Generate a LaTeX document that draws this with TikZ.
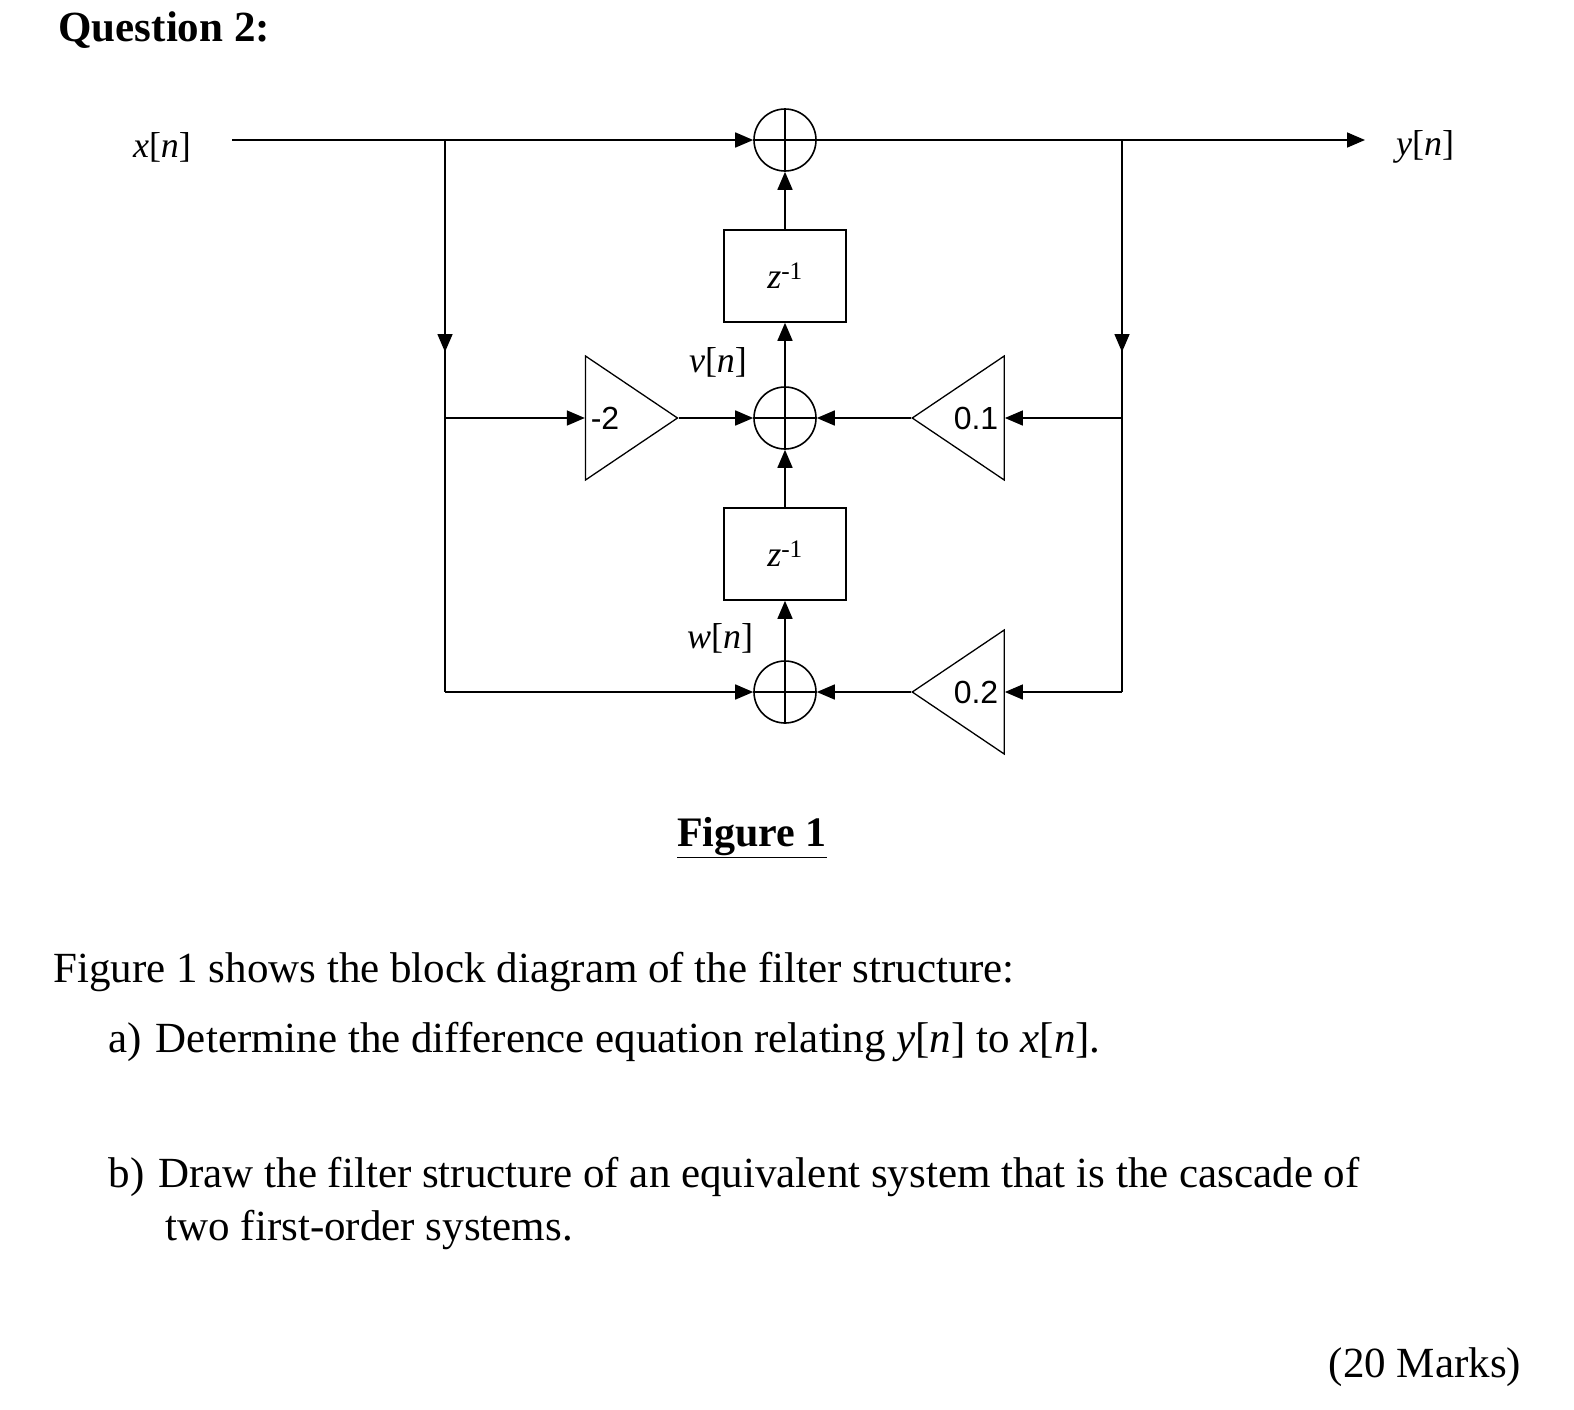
\documentclass[tikz,border=0pt]{standalone}
\usepackage{fontspec}
\setmainfont{Liberation Serif}
\newfontfamily\gainfont{Liberation Sans}
\usetikzlibrary{positioning, arrows.meta, shapes.geometric}

\newcommand{\sigtxt}[1]{\textit{#1}[\textit{n}]}

\tikzset{
  sig/.style={-{Triangle[length=18pt,width=15pt]}, line width=1.6pt},
  wire/.style={line width=1.6pt},
  adder/.style={circle, draw, line width=1.6pt, minimum size=62pt, inner sep=0pt,
    path picture={\draw[line width=1.6pt] (path picture bounding box.north) -- (path picture bounding box.south)
      (path picture bounding box.west) -- (path picture bounding box.east);}},
  delay/.style={rectangle, draw, line width=1.6pt, minimum width=122pt, minimum height=92pt, font=\fontsize{36}{40}\selectfont},
  gain/.style={isosceles triangle, isosceles triangle stretches, draw, line width=1.3pt, inner sep=0pt,
    minimum width=124pt, minimum height=92pt, font=\gainfont\fontsize{32}{36}\selectfont},
  siglabel/.style={font=\fontsize{36}{40}\selectfont},
  body/.style={font=\fontsize{43}{48}\selectfont, anchor=west}
}

\begin{document}
\begin{tikzpicture}[x=1pt, y=-1pt]
  \useasboundingbox (0,0) rectangle (1574,1409);
  % Nodes
  \node (title) [anchor=west, font=\fontsize{43}{48}\selectfont\bfseries] at (55,30) {Question 2:};
  \node (xn) [siglabel] at (162,147) {\sigtxt{x}};
  \node (yn) [siglabel] at (1425,147) {\sigtxt{y}};
  \node (add1) [adder] at (785,140) {};
  \node (add2) [adder] at (785,418) {};
  \node (add3) [adder] at (785,692) {};
  \node (delay1) [delay] at (785,276) {\textit{z}\textsuperscript{-1}};
  \node (delay2) [delay] at (785,554) {\textit{z}\textsuperscript{-1}};
  \node (gain2) [gain, shape border rotate=0] at (614,418) {\hspace*{-18pt}-2};
  \node (gain01) [gain, shape border rotate=180] at (969,418) {\hspace*{14pt}0.1};
  \node (gain02) [gain, shape border rotate=180] at (969,692) {\hspace*{14pt}0.2};
  \node (vn) [siglabel] at (718,362) {\sigtxt{v}};
  \node (wn) [siglabel] at (720,638) {\sigtxt{w}};
  \node (fig) [font=\fontsize{42}{46}\selectfont\bfseries] at (752,838) {\underline{Figure 1}};
  \node (p0) [body] at (50,972) {Figure 1 shows the block diagram of the filter structure:};
  \node (pa) [body] at (105,1042) {a)\hspace{14pt}Determine the difference equation relating \sigtxt{y} to \sigtxt{x}.};
  \node (pb) [body] at (105,1177) {b)\hspace{14pt}Draw the filter structure of an equivalent system that is the cascade of};
  \node (pb2) [body] at (162,1230) {two first-order systems.};
  \node (marks) [font=\fontsize{43}{48}\selectfont] at (1425,1367) {(20 Marks)};

  \coordinate (xin) at (232,140);
  \coordinate (yout) at (1365,140);
  \coordinate (lt) at (445,140);
  \coordinate (lm) at (445,418);
  \coordinate (lb) at (445,692);
  \coordinate (rt) at (1122,140);
  \coordinate (rm) at (1122,418);
  \coordinate (rb) at (1122,692);

  % Arrows
  \draw[sig] (xin) -- (add1.west);
  \draw[sig] (add1.east) -- (yout);
  \draw[sig] (lt) -- (445,352);
  \draw[wire] (445,340) -- (lb);
  \draw[sig] (rt) -- (1122,352);
  \draw[wire] (1122,340) -- (rb);
  \draw[sig] (lm) -- (gain2.lower side);
  \draw[sig] (gain2.apex) -- (add2.west);
  \draw[sig] (rm) -- (gain01.lower side);
  \draw[sig] (gain01.apex) -- (add2.east);
  \draw[sig] (rb) -- (gain02.lower side);
  \draw[sig] (gain02.apex) -- (add3.east);
  \draw[sig] (lb) -- (add3.west);
  \draw[sig] (add3.north) -- (delay2.south);
  \draw[sig] (delay2.north) -- (add2.south);
  \draw[sig] (add2.north) -- (delay1.south);
  \draw[sig] (delay1.north) -- (add1.south);
\end{tikzpicture}
\end{document}
